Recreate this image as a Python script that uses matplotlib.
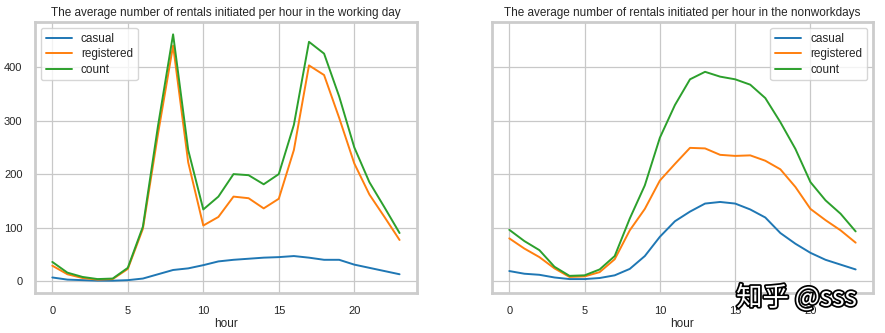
import matplotlib
matplotlib.use("Agg")
import matplotlib.pyplot as plt
import matplotlib.patheffects as pe
import seaborn as sns

hours = list(range(24))

work_casual = [7, 3, 2, 1, 1, 2, 5, 13, 21, 24, 30, 37, 40, 42, 44, 45, 47, 44, 40, 40, 31, 25, 19, 13]
work_registered = [29, 13, 6, 3, 4, 23, 98, 275, 440, 222, 104, 120, 158, 155, 136, 154, 245, 403, 385, 305, 220, 162, 120, 77]
work_count = [36, 16, 8, 4, 5, 25, 102, 290, 461, 245, 134, 158, 200, 198, 181, 200, 292, 447, 425, 345, 250, 185, 138, 90]

off_casual = [19, 14, 12, 7, 4, 4, 6, 11, 23, 47, 83, 112, 130, 145, 148, 145, 134, 119, 90, 70, 53, 40, 31, 22]
off_registered = [80, 61, 45, 24, 8, 9, 17, 41, 95, 135, 188, 219, 249, 248, 236, 234, 235, 225, 209, 176, 135, 114, 95, 72]
off_count = [96, 75, 58, 27, 10, 11, 22, 47, 117, 179, 268, 329, 377, 391, 382, 377, 367, 342, 297, 247, 185, 151, 126, 93]

titles = ["The average number of rentals initiated per hour in the working day",
          "The average number of rentals initiated per hour in the nonworkdays"]
series_names = ["casual", "registered", "count"]

sns.set_theme(style="whitegrid")
plt.rcParams['font.family'] = ['Liberation Sans', 'DejaVu Sans']

fig = plt.figure(figsize=(8.85, 3.33), dpi=100)
ax1 = fig.add_axes([0.0395, 0.1201, 0.4316, 0.8138])
ax2 = fig.add_axes([0.5559, 0.1201, 0.4305, 0.8138], sharey=ax1)

colors = ["#1f77b4", "#ff7f0e", "#2ca02c"]
data = [(work_casual, work_registered, work_count), (off_casual, off_registered, off_count)]
for ax, d, title, loc in zip([ax1, ax2], data, titles, ["upper left", "upper right"]):
    for vals, name, c in zip(d, series_names, colors):
        ax.plot(hours, vals, color=c, lw=1.4, label=name)
    ax.set_title(title, fontsize=8.5, pad=4)
    ax.set_xlabel("hour", fontsize=8.5, labelpad=2)
    ax.set_xticks([0, 5, 10, 15, 20])
    ax.tick_params(labelsize=8, pad=3)
    for s in ax.spines.values():
        s.set_color("#cccccc")
        s.set_linewidth(2)
    ax.grid(color="#c8c8c8", lw=0.9)
    ax.legend(loc=loc, fontsize=8.5, frameon=True, framealpha=0.8,
              handlelength=2.2, borderpad=0.4, labelspacing=0.3)
ax1.set_yticks([0, 100, 200, 300, 400])
plt.setp(ax2.get_yticklabels(), visible=False)

fig.text(0.90, 0.105, "知乎 @sss", fontsize=19, color="white",
         family=['Noto Sans CJK SC', 'DejaVu Sans'], ha="center", va="center",
         path_effects=[pe.withStroke(linewidth=2.5, foreground="black")])

fig.savefig("out.png", dpi=100)
